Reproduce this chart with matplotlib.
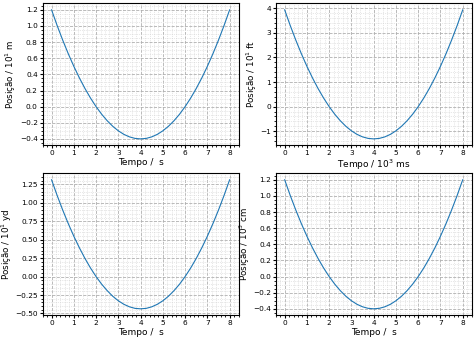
import numpy as np
import matplotlib.pyplot as plt
from matplotlib.ticker import MultipleLocator

# tempo (s) e posição
t = [0, 0.25, 0.5, 0.75, 1, 1.25, 1.5, 1.75, 2, 2.25, 2.5, 2.75, 3, 3.25,
     3.5, 3.75, 4, 4.25, 4.5, 4.75, 5, 5.25, 5.5, 5.75, 6, 6.25, 6.5, 6.75,
     7, 7.25, 7.5, 7.75, 8]
pos_m = [1.2, 1.006, 0.825, 0.656, 0.5, 0.356, 0.225, 0.106, 0.0, -0.094,
         -0.175, -0.244, -0.3, -0.344, -0.375, -0.394, -0.4, -0.394, -0.375,
         -0.344, -0.3, -0.244, -0.175, -0.094, 0.0, 0.106, 0.225, 0.356, 0.5,
         0.656, 0.825, 1.006, 1.2]
pos_ft = [3.937, 3.301, 2.707, 2.153, 1.640, 1.169, 0.738, 0.349, 0.0,
          -0.308, -0.574, -0.800, -0.984, -1.128, -1.230, -1.292, -1.312,
          -1.292, -1.230, -1.128, -0.984, -0.800, -0.574, -0.308, 0.0, 0.349,
          0.738, 1.169, 1.640, 2.153, 2.707, 3.301, 3.937]
pos_yd = [1.312, 1.100, 0.902, 0.718, 0.547, 0.390, 0.246, 0.116, 0.0,
          -0.103, -0.191, -0.267, -0.328, -0.376, -0.410, -0.431, -0.437,
          -0.431, -0.410, -0.376, -0.328, -0.267, -0.191, -0.103, 0.0, 0.116,
          0.246, 0.390, 0.547, 0.718, 0.902, 1.100, 1.312]
pos_cm = [1.2, 1.006, 0.825, 0.656, 0.5, 0.356, 0.225, 0.106, 0.0, -0.094,
          -0.175, -0.244, -0.3, -0.344, -0.375, -0.394, -0.4, -0.394, -0.375,
          -0.344, -0.3, -0.244, -0.175, -0.094, 0.0, 0.106, 0.225, 0.356, 0.5,
          0.656, 0.825, 1.006, 1.2]

ylabels = ["Posição / 10$^1$ m", "Posição / 10$^1$ ft",
           "Posição / 10$^1$ yd", "Posição / 10$^3$ cm"]
xlabels = ["Tempo /  s", "Tempo / 10$^3$ ms", "Tempo /  s", "Tempo /  s"]
ysteps = [0.2, 1, 0.25, 0.2]
series = [pos_m, pos_ft, pos_yd, pos_cm]

fig, axs = plt.subplots(2, 2, figsize=(4.74, 3.39), dpi=100)
fig.subplots_adjust(left=0.09, right=0.995, top=0.99, bottom=0.07,
                    wspace=0.19, hspace=0.197)

for ax, y, yl, xl, st in zip(axs.flat, series, ylabels, xlabels, ysteps):
    ax.plot(t, y, color='C0', lw=0.8)
    ax.set_xlabel(xl, fontsize=6.5, labelpad=1)
    ax.set_ylabel(yl, fontsize=6.3, labelpad=1)
    ax.xaxis.set_major_locator(MultipleLocator(1))
    ax.yaxis.set_major_locator(MultipleLocator(st))
    ax.minorticks_on()
    ax.grid(which='major', ls='--', color='#b0b0b0', lw=0.6)
    ax.grid(which='minor', ls=':', color='#d0d0d0', lw=0.5)
    ax.tick_params(length=2.5, pad=1, labelsize=5.3)
    ax.tick_params(which='minor', length=1.5)

fig.savefig("out.png")
